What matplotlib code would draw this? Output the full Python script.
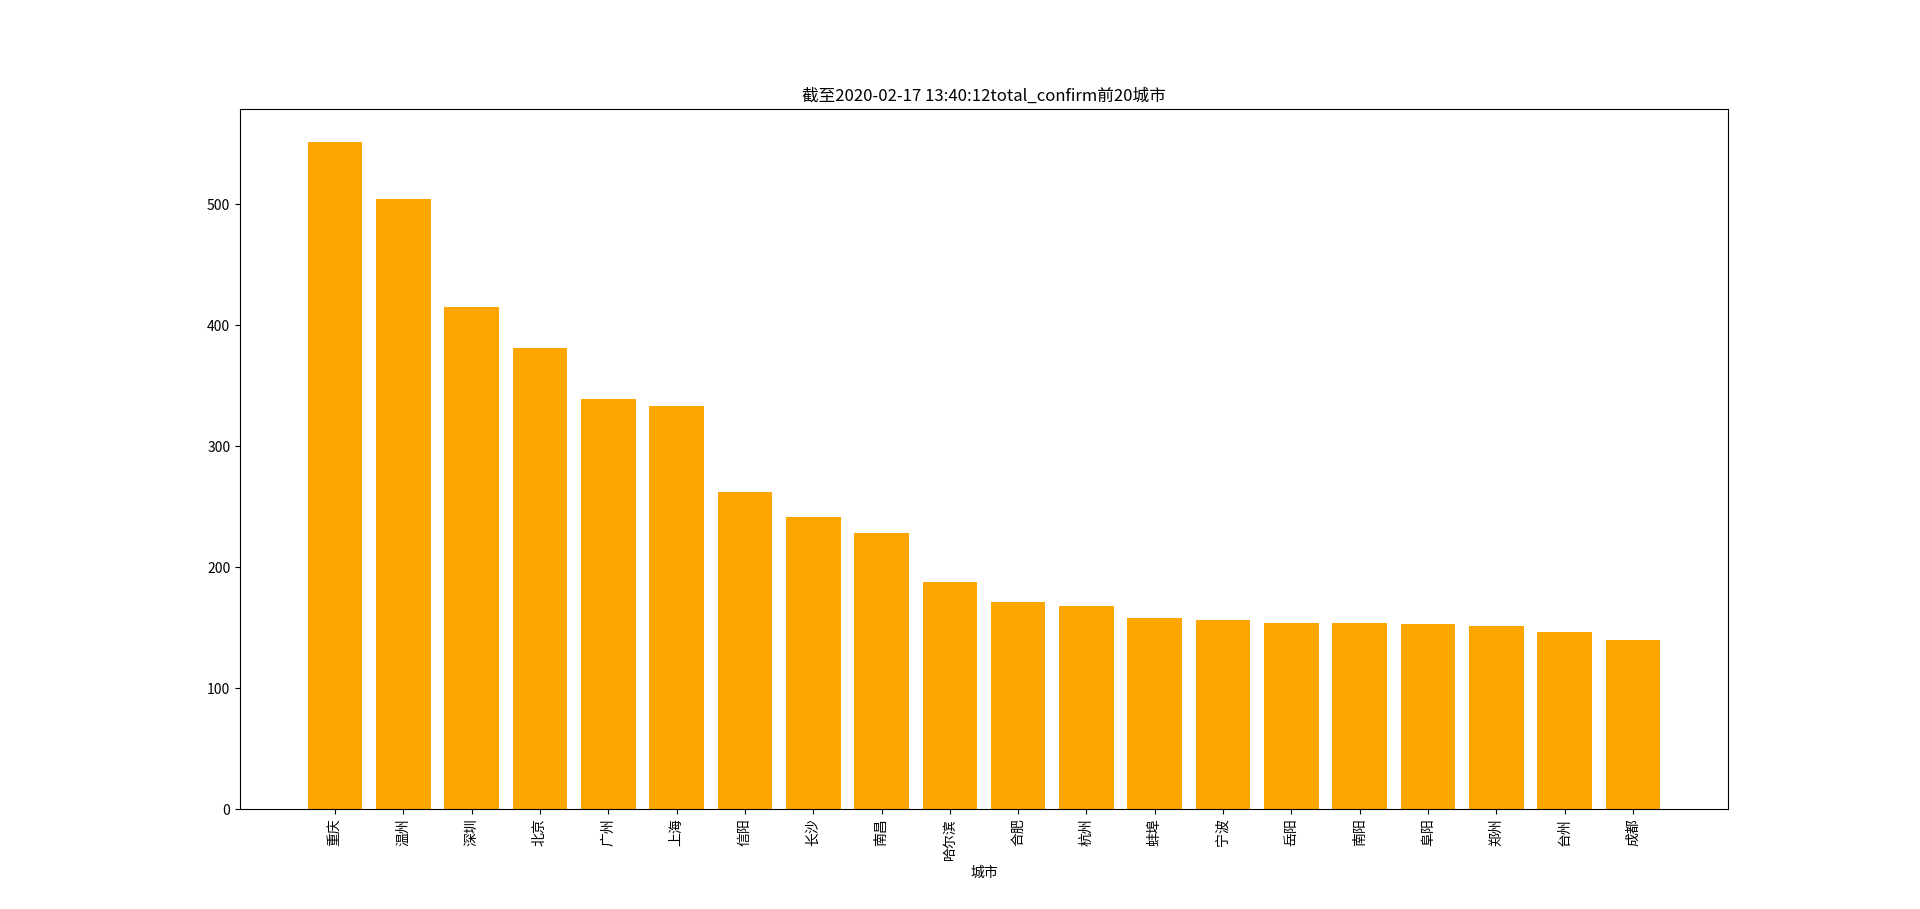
import matplotlib
matplotlib.use('Agg')
import matplotlib.pyplot as plt

plt.rcParams['font.family'] = ['Noto Sans CJK SC', 'DejaVu Sans']
plt.rcParams['axes.unicode_minus'] = False

# top 20 cities by total confirmed
cities = ['重庆', '温州', '深圳', '北京', '广州', '上海', '信阳', '长沙', '南昌', '哈尔滨',
          '合肥', '杭州', '蚌埠', '宁波', '岳阳', '南阳', '阜阳', '郑州', '台州', '成都']
total_confirm = [551, 504, 415, 381, 339, 333, 262, 241, 228, 188,
                 171, 168, 158, 156, 154, 154, 153, 151, 146, 140]
update_time = '2020-02-17 13:40:12'

fig, ax = plt.subplots(figsize=(19.2, 9.09), dpi=100)
ax.bar(cities, total_confirm, color='orange')
ax.set_xlabel('城市')
ax.set_title('截至' + update_time + 'total_confirm前20城市')
plt.xticks(rotation=90)

fig.savefig('out.png', dpi=100)
